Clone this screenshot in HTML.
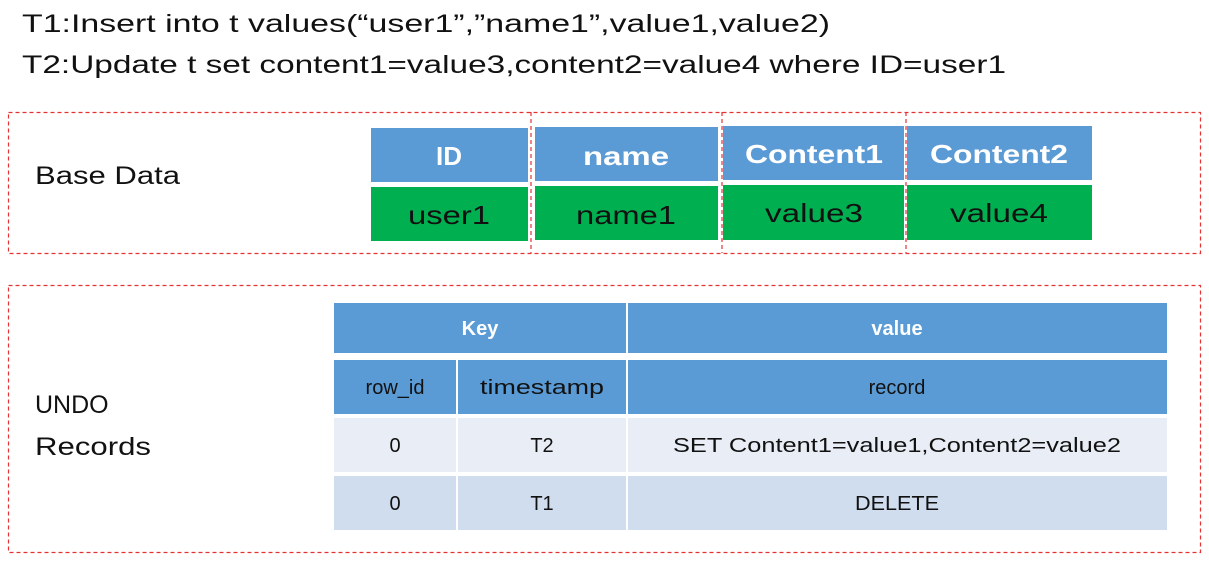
<!DOCTYPE html>
<html><head><meta charset="utf-8"><style>body{margin:0;background:#fff}svg{display:block}</style></head>
<body>
<svg width="1209" height="564" xmlns="http://www.w3.org/2000/svg" font-family="Liberation Sans, sans-serif">
<text x="22" y="32" font-size="25" fill="#111" textLength="808" lengthAdjust="spacingAndGlyphs">T1:Insert into  t values(“user1”,”name1”,value1,value2)</text>
<text x="22" y="73" font-size="25" fill="#111" textLength="984" lengthAdjust="spacingAndGlyphs">T2:Update t set content1=value3,content2=value4 where ID=user1</text>
<g fill="none" stroke="#e53333" stroke-width="1.2" stroke-dasharray="4,3">
<rect x="8.5" y="112.5" width="1192" height="141"/>
<line x1="531" y1="112" x2="531" y2="253"/><line x1="722" y1="112" x2="722" y2="253"/><line x1="906" y1="112" x2="906" y2="253"/>
<rect x="8.5" y="285.5" width="1192" height="267"/>
</g>
<text x="35" y="184" font-size="25" fill="#111" textLength="145" lengthAdjust="spacingAndGlyphs">Base Data</text>
<g fill="#5b9bd5"><rect x="371" y="128" width="157" height="54"/><rect x="535" y="127" width="183" height="54"/><rect x="723" y="126" width="181" height="54"/><rect x="907" y="126" width="185" height="54"/></g>
<g fill="#00b050"><rect x="371" y="187" width="157" height="54"/><rect x="535" y="186" width="183" height="54"/><rect x="723" y="185" width="181" height="55"/><rect x="907" y="185" width="185" height="55"/></g>
<g font-size="26" font-weight="bold" fill="#fff" text-anchor="middle">
<text x="449" y="165">ID</text><text x="626" y="165" textLength="86" lengthAdjust="spacingAndGlyphs">name</text><text x="814" y="163" textLength="138" lengthAdjust="spacingAndGlyphs">Content1</text><text x="999" y="163" textLength="138" lengthAdjust="spacingAndGlyphs">Content2</text></g>
<g font-size="26" fill="#111" text-anchor="middle">
<text x="449" y="224" textLength="82" lengthAdjust="spacingAndGlyphs">user1</text><text x="626" y="224" textLength="100" lengthAdjust="spacingAndGlyphs">name1</text><text x="814" y="222" textLength="98" lengthAdjust="spacingAndGlyphs">value3</text><text x="999" y="222" textLength="98" lengthAdjust="spacingAndGlyphs">value4</text></g>
<text x="35" y="413" font-size="25" fill="#111">UNDO</text>
<text x="35" y="455" font-size="25" fill="#111" textLength="116" lengthAdjust="spacingAndGlyphs">Records</text>
<g fill="#5b9bd5"><rect x="334" y="303" width="292" height="50"/><rect x="628" y="303" width="539" height="50"/>
<rect x="334" y="360" width="122" height="54"/><rect x="458" y="360" width="168" height="54"/><rect x="628" y="360" width="539" height="54"/></g>
<g fill="#e9edf6"><rect x="334" y="418" width="122" height="54"/><rect x="458" y="418" width="168" height="54"/><rect x="628" y="418" width="539" height="54"/></g>
<g fill="#d0ddee"><rect x="334" y="476" width="122" height="54"/><rect x="458" y="476" width="168" height="54"/><rect x="628" y="476" width="539" height="54"/></g>
<g font-size="20" font-weight="bold" fill="#fff" text-anchor="middle"><text x="480" y="335">Key</text><text x="897" y="335">value</text></g>
<g font-size="20" fill="#111" text-anchor="middle">
<text x="395" y="394">row_id</text><text x="542" y="394" textLength="124" lengthAdjust="spacingAndGlyphs">timestamp</text><text x="897" y="394">record</text>
<text x="395" y="452">0</text><text x="542" y="452">T2</text><text x="897" y="452" textLength="448" lengthAdjust="spacingAndGlyphs">SET Content1=value1,Content2=value2</text>
<text x="395" y="510">0</text><text x="542" y="510">T1</text><text x="897" y="510" textLength="84" lengthAdjust="spacingAndGlyphs">DELETE</text></g>
</svg>
</body></html>
